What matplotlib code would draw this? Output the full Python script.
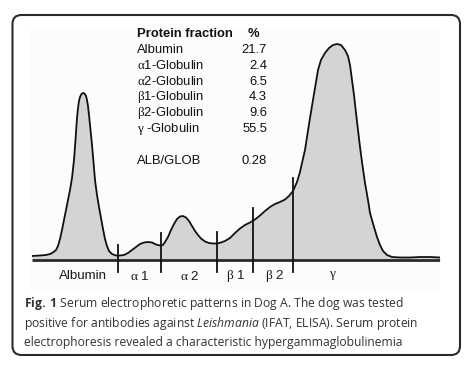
import matplotlib
matplotlib.use("Agg")
import matplotlib.pyplot as plt
from matplotlib.patches import FancyBboxPatch, Rectangle

plt.rcParams['mathtext.fontset'] = 'custom'
plt.rcParams['mathtext.rm'] = 'Liberation Serif'
plt.rcParams['mathtext.it'] = 'Open Sans:italic'
plt.rcParams['mathtext.bf'] = 'Open Sans:bold'

# ---------------- data ----------------
# relative mobility (x) and optical density (y), baseline = 0
mobility = [0, 8, 14, 18, 21, 24, 26, 28, 30, 32, 34, 36, 38, 40, 42, 43.5, 45, 46, 47,
            48, 49.5, 51, 52.5, 54, 55, 56, 57, 58.5, 60, 61.5, 63, 65, 67, 69, 71, 73,
            75, 77, 80, 84, 88,
            92, 96, 100, 104, 108, 112, 116, 120, 124, 128, 131,
            133, 136, 139, 142, 145, 148, 151, 154, 157, 160, 163, 166, 169, 173, 177,
            181, 185, 189,
            193, 198, 203, 208, 213, 218, 223, 228, 233, 238, 243, 248, 253, 257, 261,
            265, 268, 270, 273, 275, 278, 281, 284, 286, 289, 293, 297, 301, 305, 309,
            313, 316, 318, 320, 322, 324, 326, 328, 330, 333, 336, 338, 342, 345, 348,
            351, 355, 360, 368, 378, 388, 398, 408]
density = [4, 4.5, 5, 6, 7.5, 10, 14, 21, 30, 40, 50, 60, 70, 82, 100, 120, 142, 152, 159,
           163, 166, 167, 166.5, 164, 160, 154, 145, 130, 115, 98, 80, 65, 53, 42, 31, 21,
           14, 9, 6, 4.5, 4.5,
           5, 7, 10, 13, 16, 17.5, 18, 17.5, 15.5, 14.5, 15,
           18, 23, 30, 36, 41, 43.5, 44, 42.5, 39, 34, 29, 25, 21.5, 18.5, 17,
           16.5, 16.5, 17.5,
           19, 22, 27, 31.5, 35, 37.5, 40.5, 44.5, 49, 53, 56, 58, 60.5, 64, 69,
           78, 88, 97, 110, 123, 142, 160, 178, 190, 200, 207, 212, 215, 216, 215,
           210, 204, 195, 180, 165, 147, 130, 113, 98, 77, 60, 47, 33, 23, 15,
           9, 5, 3, 2.5, 2.5, 3, 3, 2.5]

# fraction boundaries (mobility) and the height of each separator mark
boundaries = [86, 129, 185, 221, 261]
boundary_tops = [15, 27, 28, 52, 82]
fraction_labels = ['Albumin', r'$\mathrm{\alpha}$ 1', r'$\mathrm{\alpha}$ 2',
                   r'$\mathrm{\beta}$ 1', r'$\mathrm{\beta}$ 2', r'$\mathrm{\gamma}$']
label_positions = [51, 108, 158, 204, 243, 301]

table_names = ['Albumin', r'$\mathrm{\alpha}$1-Globulin', r'$\mathrm{\alpha}$2-Globulin',
               r'$\mathrm{\beta}$1-Globulin', r'$\mathrm{\beta}$2-Globulin',
               r'$\mathrm{\gamma}$ -Globulin']
table_values = ['21.7', '2.4', '6.5', '4.3', '9.6', '55.5']
ratio_label = 'ALB/GLOB'
ratio_value = '0.28'

caption_lines = [
    r'$\mathbf{Fig.}$$\mathbf{\;1}$ Serum electrophoretic patterns in Dog A. The dog was tested',
    r'positive for antibodies against $\mathit{Leishmania}$ (IFAT, ELISA). Serum protein',
    'electrophoresis revealed a characteristic hypergammaglobulinemia',
]

# ---------------- figure ----------------
W, H = 472, 366
fig = plt.figure(figsize=(W / 100, H / 100), dpi=100)
fig.patch.set_facecolor('white')

# overlay in pixel coordinates (for frame and text layout)
ov = fig.add_axes([0, 0, 1, 1])
ov.set_xlim(0, W)
ov.set_ylim(H, 0)
ov.axis('off')

ov.add_patch(Rectangle((30, 28), 410, 262, facecolor='#fcfcfc', edgecolor='none', zorder=0))
ov.add_patch(FancyBboxPatch((12.5, 15), 447.5, 340,
                            boxstyle='round,pad=0,rounding_size=9',
                            facecolor='none', edgecolor='#2b2b2b', linewidth=1.5, zorder=5))

# chart axes: x px 32..440, y px 290..30 -> data y = 260 - py
left_px, right_px, top_px, bot_px = 32, 440, 30, 290
ax = fig.add_axes([left_px / W, (H - bot_px) / H, (right_px - left_px) / W,
                   (bot_px - top_px) / H])
ax.set_xlim(0, right_px - left_px)
ax.set_ylim(-30, 230)
ax.axis('off')
ax.patch.set_alpha(0)

ax.fill_between(mobility, 0, density, color='#d4d4d4', linewidth=0, zorder=1)
ax.plot(mobility, density, color='#111111', linewidth=1.3, zorder=3,
        solid_joinstyle='round')
ax.plot([mobility[0], mobility[-1]], [0, 0], color='#2a2a2a', linewidth=2.0,
        zorder=2, solid_capstyle='butt')
for b, t in zip(boundaries, boundary_tops):
    ax.plot([b, b], [t, -12], color='#111111', linewidth=1.3, zorder=4)
for lab, xp in zip(fraction_labels, label_positions):
    ax.text(xp, -16, lab, ha='center', va='center', fontsize=9.6,
            family='Liberation Sans', color='#1a1a1a')

# table text
tfont = dict(family='Liberation Sans', color='#111111', va='baseline')
ov.text(137, 37, 'Protein fraction', fontsize=9.4, fontweight='bold', ha='left', **tfont)
ov.text(248, 37, '%', fontsize=9.4, fontweight='bold', ha='left', **tfont)
row_y = 53
for name, val in zip(table_names, table_values):
    ov.text(137, row_y, name, fontsize=9.4, ha='left', **tfont)
    ov.text(267, row_y, val, fontsize=9.4, ha='right', **tfont)
    row_y += 15.8
ov.text(137, 164, ratio_label, fontsize=9.4, ha='left', **tfont)
ov.text(267, 164, ratio_value, fontsize=9.4, ha='right', **tfont)

# caption
cy = 307
for line in caption_lines:
    ov.text(24, cy, line, fontsize=8.7, family='Open Sans', color='#333333',
            ha='left', va='baseline')
    cy += 19.5

fig.savefig('out.png', dpi=100, facecolor='white')
